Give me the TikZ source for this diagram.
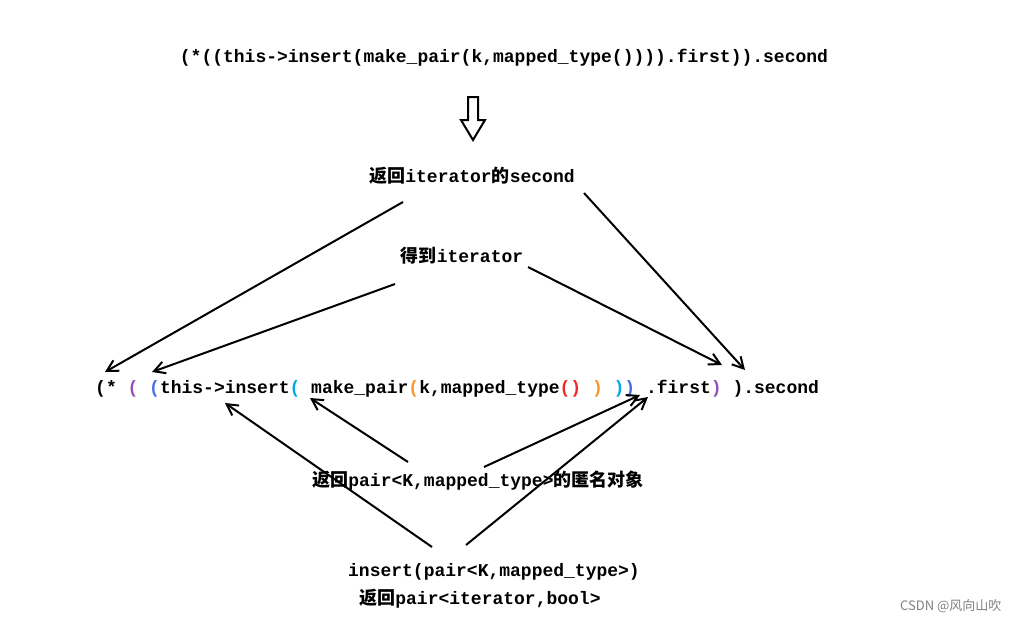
\documentclass[tikz,border=0pt]{standalone}
\usepackage{fontspec}
\setmonofont{Liberation Mono}
\newfontfamily\cjk{Noto Sans CJK SC}
\usetikzlibrary{arrows.meta}
\definecolor{cpur}{RGB}{150,80,190}
\definecolor{cblu}{RGB}{70,110,230}
\definecolor{ccya}{RGB}{0,170,230}
\definecolor{cora}{RGB}{250,150,40}
\definecolor{cred}{RGB}{240,40,40}
\newcommand{\zh}[1]{{\cjk\bfseries #1}}
\begin{document}
\begin{tikzpicture}[x=1pt,y=-1pt,
  txt/.style={font=\ttfamily\bfseries\fontsize{18}{20}\selectfont,inner sep=0pt},
  arr/.style={-{Straight Barb[length=11pt,width=12pt]},line width=2pt}]
\useasboundingbox (0,0) rectangle (1020,624);
\node[txt] (top) at (504,58) {(*((this->insert(make\_pair(k,mapped\_type()))).first)).second};
\draw[line width=2pt] (468,97) -- (478,97) -- (478,120) -- (485,120) -- (473,140) -- (461,120) -- (468,120) -- cycle;
\node[txt] (ret) at (472,176) {\zh{返回}iterator\zh{的}second};
\node[txt] (get) at (462,256) {\zh{得到}iterator};
\node[txt,anchor=west] (mid) at (95,389) {(* \textcolor{cpur}{(} \textcolor{cblu}{(}this->insert\textcolor{ccya}{(} make\_pair\textcolor{cora}{(}k,mapped\_type\textcolor{cred}{()} \textcolor{cora}{)} \textcolor{ccya}{)}\textcolor{cblu}{)} .first\textcolor{cpur}{)} ).second};
\node[txt] (anon) at (478,481) {\zh{返回}pair<K,mapped\_type>\zh{的匿名对象}};
\node[txt] (ins) at (494,572) {insert(pair<K,mapped\_type>)};
\node[txt] (ret2) at (480,599) {\zh{返回}pair<iterator,bool>};
\node[font=\cjk\fontsize{13}{15}\selectfont,text=gray,anchor=east] (wm) at (1005,606) {CSDN @风向山吹};
\coordinate (a1) at (403,202); \coordinate (b1) at (105,372);
\coordinate (a2) at (584,193); \coordinate (b2) at (745,370);
\coordinate (a3) at (395,284); \coordinate (b3) at (152,372);
\coordinate (a4) at (528,267); \coordinate (b4) at (722,365);
\coordinate (a5) at (408,462); \coordinate (b5) at (310,398);
\coordinate (a6) at (484,467); \coordinate (b6) at (640,395);
\coordinate (a7) at (432,547); \coordinate (b7) at (225,403);
\coordinate (a8) at (466,545); \coordinate (b8) at (648,397);
\foreach \i in {1,...,8} \draw[arr] (a\i) -- (b\i);
\end{tikzpicture}
\end{document}
